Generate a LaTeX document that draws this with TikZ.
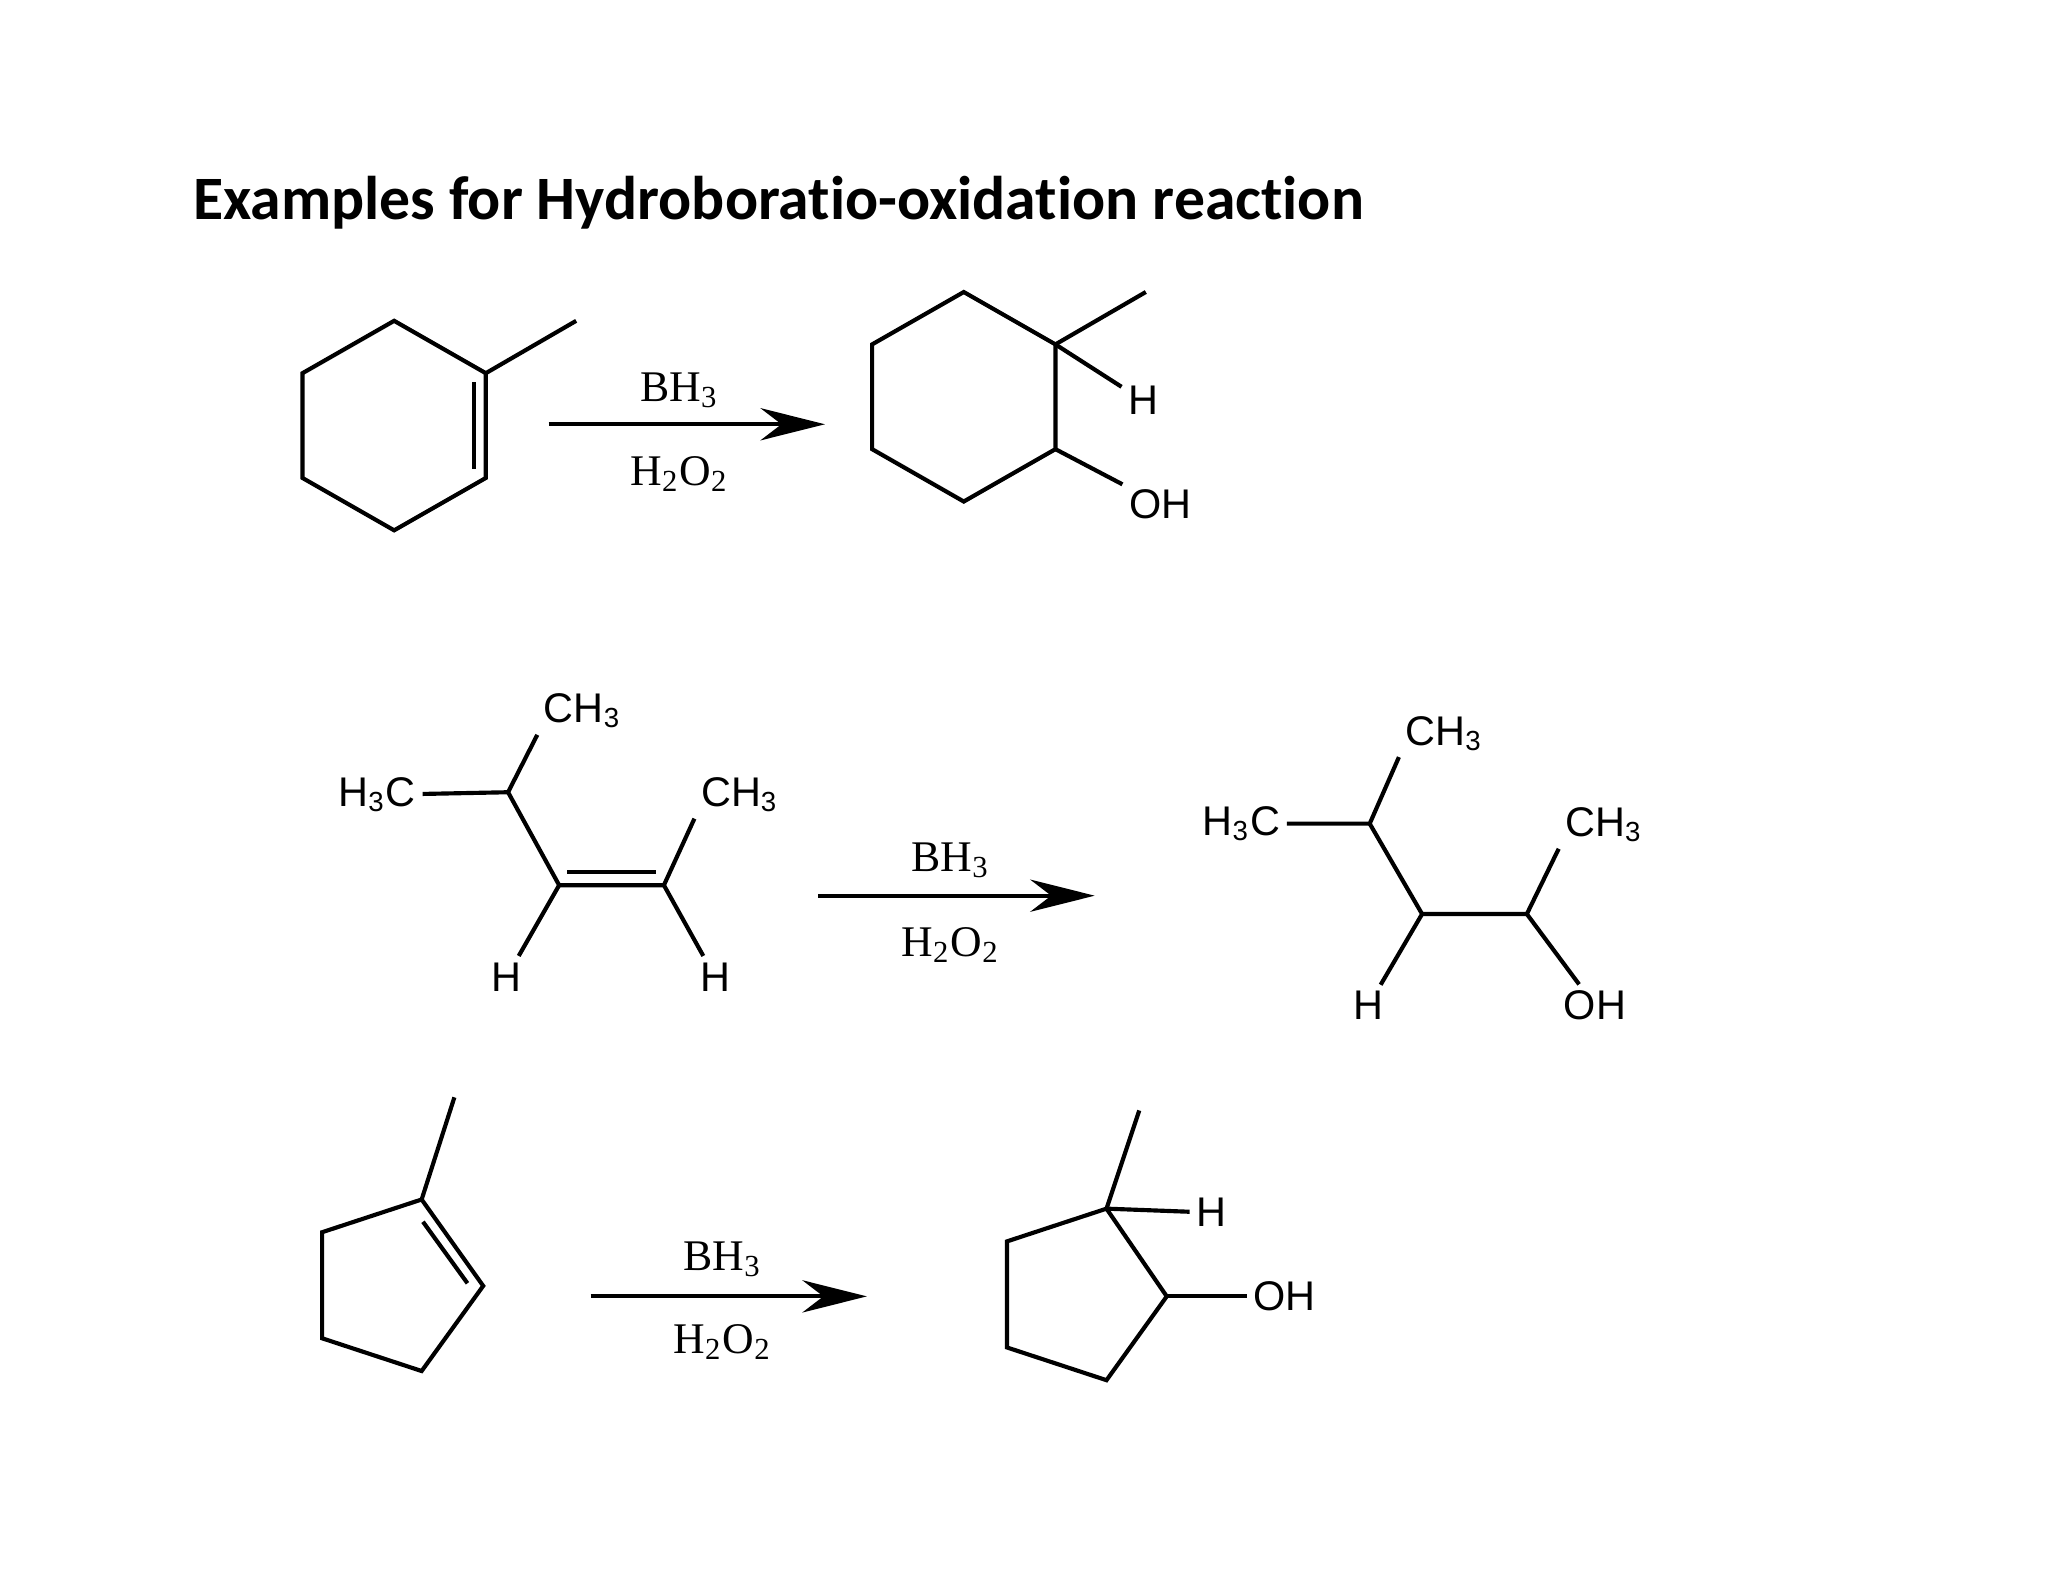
\documentclass[tikz,border=0pt]{standalone}
\usepackage{fontspec}
\setmainfont{Liberation Serif}
\newfontfamily\titlefont[Ligatures=NoCommon]{Carlito}
\newfontfamily\labfont{Liberation Sans}
\usetikzlibrary{arrows.meta}
\newcommand{\sbs}[1]{\textsubscript{#1}}
\begin{document}
\begin{tikzpicture}[x=0.01cm,y=-0.01cm,line width=0.9pt,
  bond/.style={line width=0.9pt},
  rxn/.style={line width=0.9pt,-{Stealth[length=14pt,width=7pt]}},
  reag/.style={font=\fontsize{9.5}{11}\selectfont},
  atom/.style={font=\labfont\fontsize{9}{11}\selectfont,inner sep=1pt}]
\useasboundingbox (0,0) rectangle (1564,1209);
\node[anchor=west,font=\titlefont\bfseries\fontsize{13.4}{16}\selectfont,inner sep=0pt] (title) at (146,155) {Examples for Hydroboratio-oxidation reaction};
% molecule 1
\draw[bond] (301,245)--(371,285)--(371,365)--(301,405)--(231,365)--(231,285)--cycle;
\draw[bond] (371,285)--(440,245);
\draw[bond] (362,292)--(362,358);
\coordinate (a1s) at (419,324); \coordinate (a1e) at (630,324);
\draw[rxn] (a1s)--(a1e);
\node[reag] (b1) at (519,298) {BH\sbs{3}};
\node[reag] (h1) at (519,362) {H\sbs{2}O\sbs{2}};
% product 1
\draw[bond] (736,223)--(806,263)--(806,343)--(736,383)--(666,343)--(666,263)--cycle;
\draw[bond] (806,263)--(875,223);
\node[atom] (p1h) at (873,306) {H};
\node[atom] (p1oh) at (886,385) {OH};
\draw[bond] (806,263)--(p1h);
\draw[bond] (806,343)--(p1oh);
% molecule 2
\node[atom] (m2c) at (445,543) {CH\sbs{3}};
\node[atom] (m2l) at (288,607) {H\sbs{3}C};
\node[atom] (m2r) at (565,607) {CH\sbs{3}};
\node[atom] (m2h1) at (387,746) {H};
\node[atom] (m2h2) at (546,746) {H};
\draw[bond] (m2l)--(388,605)--(m2c.south west);
\draw[bond] (388,605)--(427,676)--(507,676)--(m2r.south west);
\draw[bond] (433,666)--(501,666);
\draw[bond] (427,676)--(m2h1);
\draw[bond] (507,676)--(m2h2);
\coordinate (a2s) at (625,684); \coordinate (a2e) at (836,684);
\draw[rxn] (a2s)--(a2e);
\node[reag] (b2) at (726,657) {BH\sbs{3}};
\node[reag] (h2) at (726,722) {H\sbs{2}O\sbs{2}};
% product 2
\node[atom] (p2l) at (948,629) {H\sbs{3}C};
\node[atom] (p2c) at (1103,560) {CH\sbs{3}};
\node[atom] (p2r) at (1225,630) {CH\sbs{3}};
\node[atom] (p2oh) at (1218,768) {OH};
\node[atom] (p2h) at (1045,768) {H};
\draw[bond] (p2l)--(1046,629)--(p2c.south west);
\draw[bond] (1046,629)--(1086,698)--(1166,698)--(p2r.south west);
\draw[bond] (1166,698)--(p2oh);
\draw[bond] (1086,698)--(p2h);
% molecule 3
\draw[bond] (322,916)--(369,982)--(322,1047)--(246,1022)--(246,941)--cycle;
\draw[bond] (322,916)--(347,838);
\draw[bond] (323,933)--(357,980);
\coordinate (a3s) at (451,990); \coordinate (a3e) at (662,990);
\draw[rxn] (a3s)--(a3e);
\node[reag] (b3) at (552,962) {BH\sbs{3}};
\node[reag] (h3) at (552,1025) {H\sbs{2}O\sbs{2}};
% product 3
\draw[bond] (845,923)--(891,990)--(845,1054)--(769,1029)--(769,948)--cycle;
\draw[bond] (845,923)--(870,848);
\node[atom] (p3h) at (925,926) {H};
\node[atom] (p3oh) at (981,990) {OH};
\draw[bond] (845,923)--(p3h);
\draw[bond] (891,990)--(p3oh);
\end{tikzpicture}
\end{document}
